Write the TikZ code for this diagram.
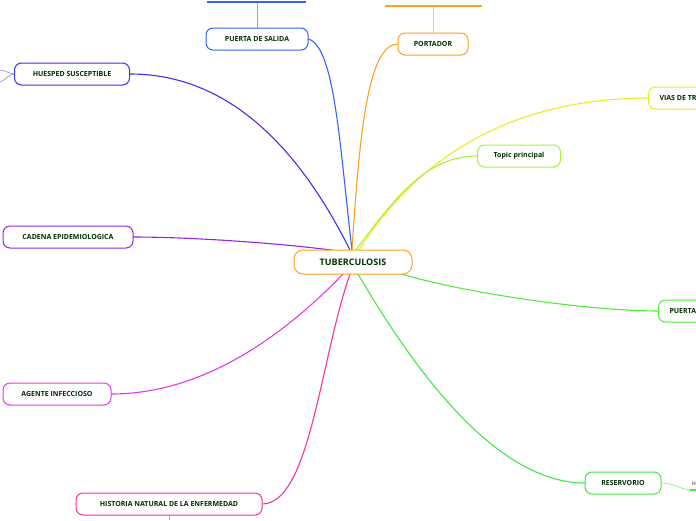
\documentclass[tikz,border=0pt]{standalone}
\usepackage{fontspec}
\setmainfont{Open Sans}
\begin{document}
\begin{tikzpicture}[x=1pt,y=-1pt,
 box/.style={draw=#1,line width=1pt,rounded corners=7pt,fill=white,minimum height=22pt,inner xsep=8pt,font=\bfseries\fontsize{7}{7}\selectfont,text=black!70!green!60!black},
 con/.style={draw=#1,line width=1.1pt}]
\definecolor{cB}{RGB}{50,100,250}\definecolor{cO}{RGB}{255,160,30}
\definecolor{cH}{RGB}{60,50,235}\definecolor{cY}{RGB}{235,235,40}
\definecolor{cT}{RGB}{170,240,60}\definecolor{cC}{RGB}{140,40,230}
\definecolor{cP}{RGB}{80,235,60}\definecolor{cA}{RGB}{225,60,225}
\definecolor{cR}{RGB}{70,230,70}\definecolor{cN}{RGB}{245,50,160}
\clip (0,0) rectangle (696,520);
\useasboundingbox (0,0) rectangle (696,520);
% connectors
\draw[con=cB] (352,250) .. controls (340,150) and (335,45) .. (308,39);
\draw[con=cO] (352,250) .. controls (360,120) and (370,44) .. (398,44);
\draw[con=cH] (350,250) .. controls (300,150) and (230,74) .. (130,74);
\draw[con=cY] (356,255) .. controls (420,150) and (520,98) .. (650,98);
\draw[con=cT] (356,250) .. controls (400,190) and (430,156) .. (478,156);
\draw[con=cC] (345,252) .. controls (300,245) and (200,237) .. (133,237);
\draw[con=cP] (395,272) .. controls (450,290) and (580,311) .. (660,311);
\draw[con=cA] (345,272) .. controls (280,340) and (200,394) .. (111,394);
\draw[con=cR] (358,274) .. controls (420,380) and (500,483) .. (585,483);
\draw[con=cN] (350,274) .. controls (320,360) and (310,504) .. (262,504);
\draw[cB!60,line width=0.6pt] (257,28) -- (257,2);
\draw[cB,line width=1.4pt] (207,2) -- (306,2);
\draw[cO!60,line width=0.6pt] (433,33) -- (433,6);
\draw[cO,line width=1.4pt] (385,6) -- (482,6);
\draw[cR!70,line width=0.6pt] (661,483) .. controls (675,483) and (680,490) .. (693,490);
\draw[cR,line width=1.4pt] (690,490) -- (696,490);
\node[font=\fontsize{5}{5}\selectfont] at (694,484) {H};
\draw[cH!60,line width=0.6pt] (15,74) .. controls (8,74) and (6,80) .. (0,82);
\draw[cH!60,line width=0.6pt] (15,74) .. controls (8,74) and (6,70) .. (0,70);
\draw[cN!60,line width=0.6pt] (169,515) -- (169,520);
% nodes
\node[box=cO,minimum width=118pt,minimum height=24pt,rounded corners=9pt,font=\bfseries\fontsize{9}{9}\selectfont,text=black!80!green] (t) at (353,262) {TUBERCULOSIS};
\node[box=cB,minimum width=102pt] (ps) at (257,39) {PUERTA DE SALIDA};
\node[box=cO,minimum width=70pt] (po) at (433,44) {PORTADOR};
\node[box=cH,minimum width=115pt] (hs) at (72,74) {HUESPED SUSCEPTIBLE};
\node[box=cY,minimum width=90pt,anchor=west,inner xsep=11pt] (vt) at (648,98) {VIAS DE TRANSMISION};
\node[box=cT,minimum width=83pt] (tp) at (519,156) {Topic principal};
\node[box=cC,minimum width=130pt] (ce) at (68,237) {CADENA EPIDEMIOLOGICA};
\node[box=cP,minimum width=90pt,anchor=west,inner xsep=11pt] (pe) at (658,311) {PUERTA DE ENTRADA};
\node[box=cA,minimum width=108pt] (ai) at (57,394) {AGENTE INFECCIOSO};
\node[box=cR,minimum width=76pt] (re) at (623,483) {RESERVORIO};
\node[box=cN,minimum width=186pt] (hn) at (169,504) {HISTORIA NATURAL DE LA ENFERMEDAD};
\end{tikzpicture}
\end{document}
